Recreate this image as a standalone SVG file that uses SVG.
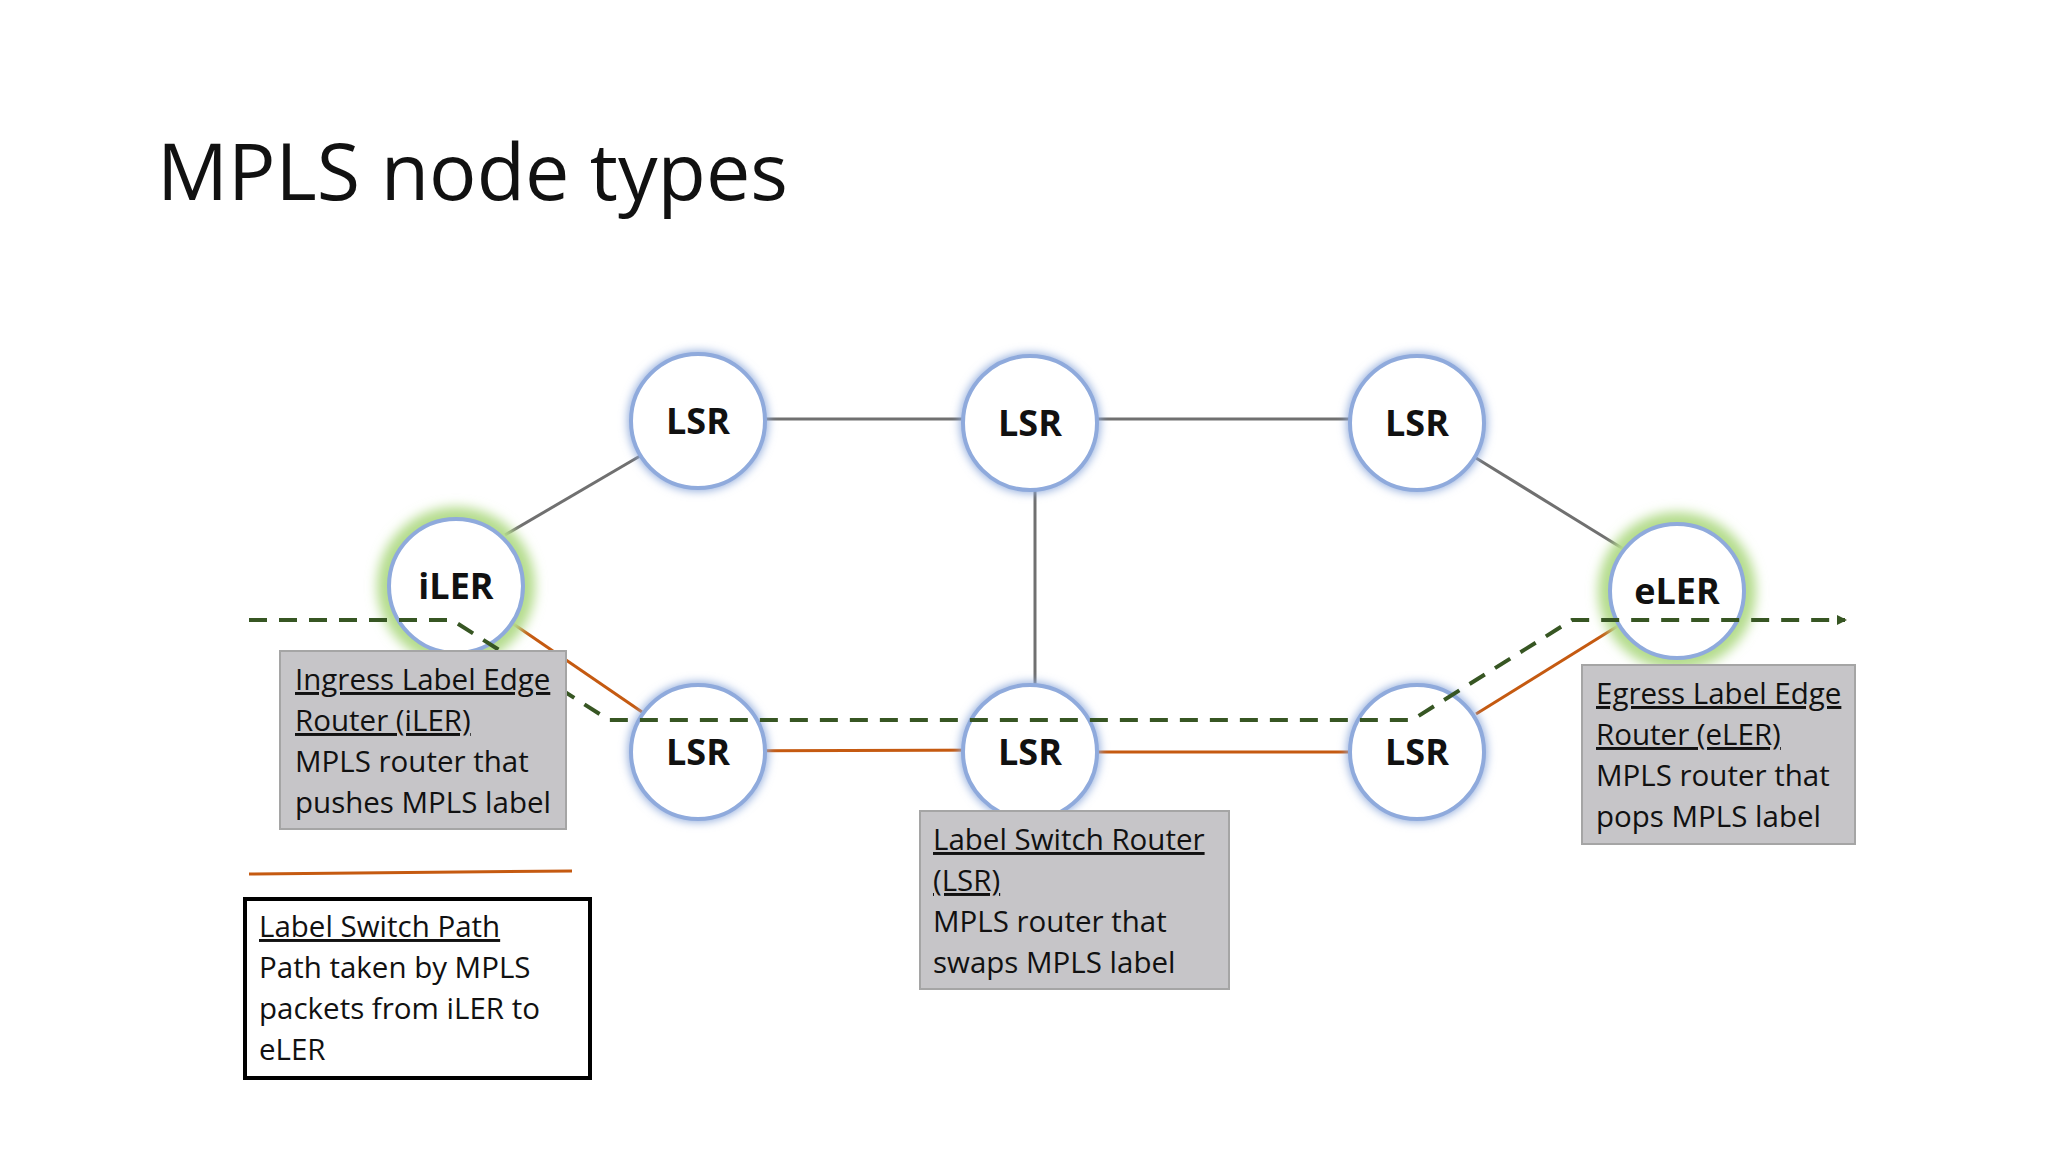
<svg xmlns="http://www.w3.org/2000/svg" width="2048" height="1152" viewBox="0 0 2048 1152">
<style>
text{font-family:"Open Sans","Noto Sans",sans-serif;fill:#111}
.t{font-size:29.5px}
.u{text-decoration:underline}
.n{font-size:36px;font-weight:bold;text-anchor:middle}
.g{stroke:#707070;stroke-width:3;fill:none}
.o{stroke:#c55a11;stroke-width:3;fill:none}
.box{fill:#c6c5c8;stroke:#a5a5a5;stroke-width:2}
.c{fill:#fff;stroke:#8faadc;stroke-width:4}
</style>
<defs>
<filter id="bl" x="-30%" y="-30%" width="160%" height="160%"><feGaussianBlur stdDeviation="5"/></filter>
<filter id="gl" x="-40%" y="-40%" width="180%" height="180%"><feGaussianBlur stdDeviation="6"/></filter>
<marker id="ar" markerWidth="10" markerHeight="10" refX="8" refY="5" orient="auto" markerUnits="userSpaceOnUse" viewBox="0 0 10 10"><path d="M0,0L10,5L0,10Z" fill="#375623"/></marker>
</defs>
<rect width="2048" height="1152" fill="#fff"/>
<text x="157" y="200" style="font-size:79px">MPLS node types</text>
<g id="connectors">
<line class="g" x1="698" y1="419" x2="1030" y2="419"/>
<line class="g" x1="1030" y1="419" x2="1417" y2="419"/>
<line class="g" x1="1035" y1="480" x2="1035" y2="690"/>
<line class="g" x1="505" y1="535" x2="640" y2="456"/>
<line class="g" x1="1476" y1="458" x2="1625" y2="550"/>
<line class="o" x1="512" y1="623" x2="642" y2="712"/>
<line class="o" x1="698" y1="751" x2="1030" y2="750"/>
<line class="o" x1="1030" y1="752" x2="1417" y2="752"/>
<line class="o" x1="1476" y1="714" x2="1621" y2="624"/>
</g>
<g id="nodes">
<g id="lsr1"><circle cx="698" cy="421" r="70" fill="#8faadc" filter="url(#bl)"/><circle class="c" cx="698" cy="421" r="67"/><text class="n" x="698" y="434">LSR</text></g>
<g id="lsr2"><circle cx="1030" cy="423" r="70" fill="#8faadc" filter="url(#bl)"/><circle class="c" cx="1030" cy="423" r="67"/><text class="n" x="1030" y="436">LSR</text></g>
<g id="lsr3"><circle cx="1417" cy="423" r="70" fill="#8faadc" filter="url(#bl)"/><circle class="c" cx="1417" cy="423" r="67"/><text class="n" x="1417" y="436">LSR</text></g>
<g id="iler"><circle cx="456" cy="586" r="79" fill="#b4dc8c" filter="url(#gl)"/><circle class="c" cx="456" cy="586" r="67"/><text class="n" x="456" y="599">iLER</text></g>
<g id="eler"><circle cx="1677" cy="591" r="79" fill="#b4dc8c" filter="url(#gl)"/><circle class="c" cx="1677" cy="591" r="67"/><text class="n" x="1677" y="604">eLER</text></g>
<g id="lsr4"><circle cx="698" cy="752" r="70" fill="#8faadc" filter="url(#bl)"/><circle class="c" cx="698" cy="752" r="67"/><text class="n" x="698" y="765">LSR</text></g>
<g id="lsr5"><circle cx="1030" cy="752" r="70" fill="#8faadc" filter="url(#bl)"/><circle class="c" cx="1030" cy="752" r="67"/><text class="n" x="1030" y="765">LSR</text></g>
<g id="lsr6"><circle cx="1417" cy="752" r="70" fill="#8faadc" filter="url(#bl)"/><circle class="c" cx="1417" cy="752" r="67"/><text class="n" x="1417" y="765">LSR</text></g>
</g>
<g id="path">
<polyline points="249,620 452,620 609,720 1412,720 1572,620 1845,620" fill="none" stroke="#375623" stroke-width="4" stroke-dasharray="18,12" marker-end="url(#ar)"/>
</g>
<g id="iler-box"><rect class="box" x="280" y="651" width="286" height="178"/>
<text class="t" x="295" y="690"><tspan class="u">Ingress Label Edge</tspan><tspan class="u" x="295" dy="41">Router (iLER)</tspan><tspan x="295" dy="41">MPLS router that</tspan><tspan x="295" dy="41">pushes MPLS label</tspan></text></g>
<g id="lsr-box"><rect class="box" x="920" y="811" width="309" height="178"/>
<text class="t" x="933" y="850"><tspan class="u">Label Switch Router</tspan><tspan class="u" x="933" dy="41">(LSR)</tspan><tspan x="933" dy="41">MPLS router that</tspan><tspan x="933" dy="41">swaps MPLS label</tspan></text></g>
<g id="eler-box"><rect class="box" x="1582" y="665" width="273" height="179"/>
<text class="t" x="1596" y="704"><tspan class="u">Egress Label Edge</tspan><tspan class="u" x="1596" dy="41">Router (eLER)</tspan><tspan x="1596" dy="41">MPLS router that</tspan><tspan x="1596" dy="41">pops MPLS label</tspan></text></g>
<g id="legend">
<line class="o" x1="249" y1="874" x2="572" y2="871"/>
<rect x="245" y="899" width="345" height="179" fill="#fff" stroke="#000" stroke-width="4"/>
<text class="t" x="259" y="937"><tspan class="u">Label Switch Path</tspan><tspan x="259" dy="41">Path taken by MPLS</tspan><tspan x="259" dy="41">packets from iLER to</tspan><tspan x="259" dy="41">eLER</tspan></text>
</g>
</svg>
